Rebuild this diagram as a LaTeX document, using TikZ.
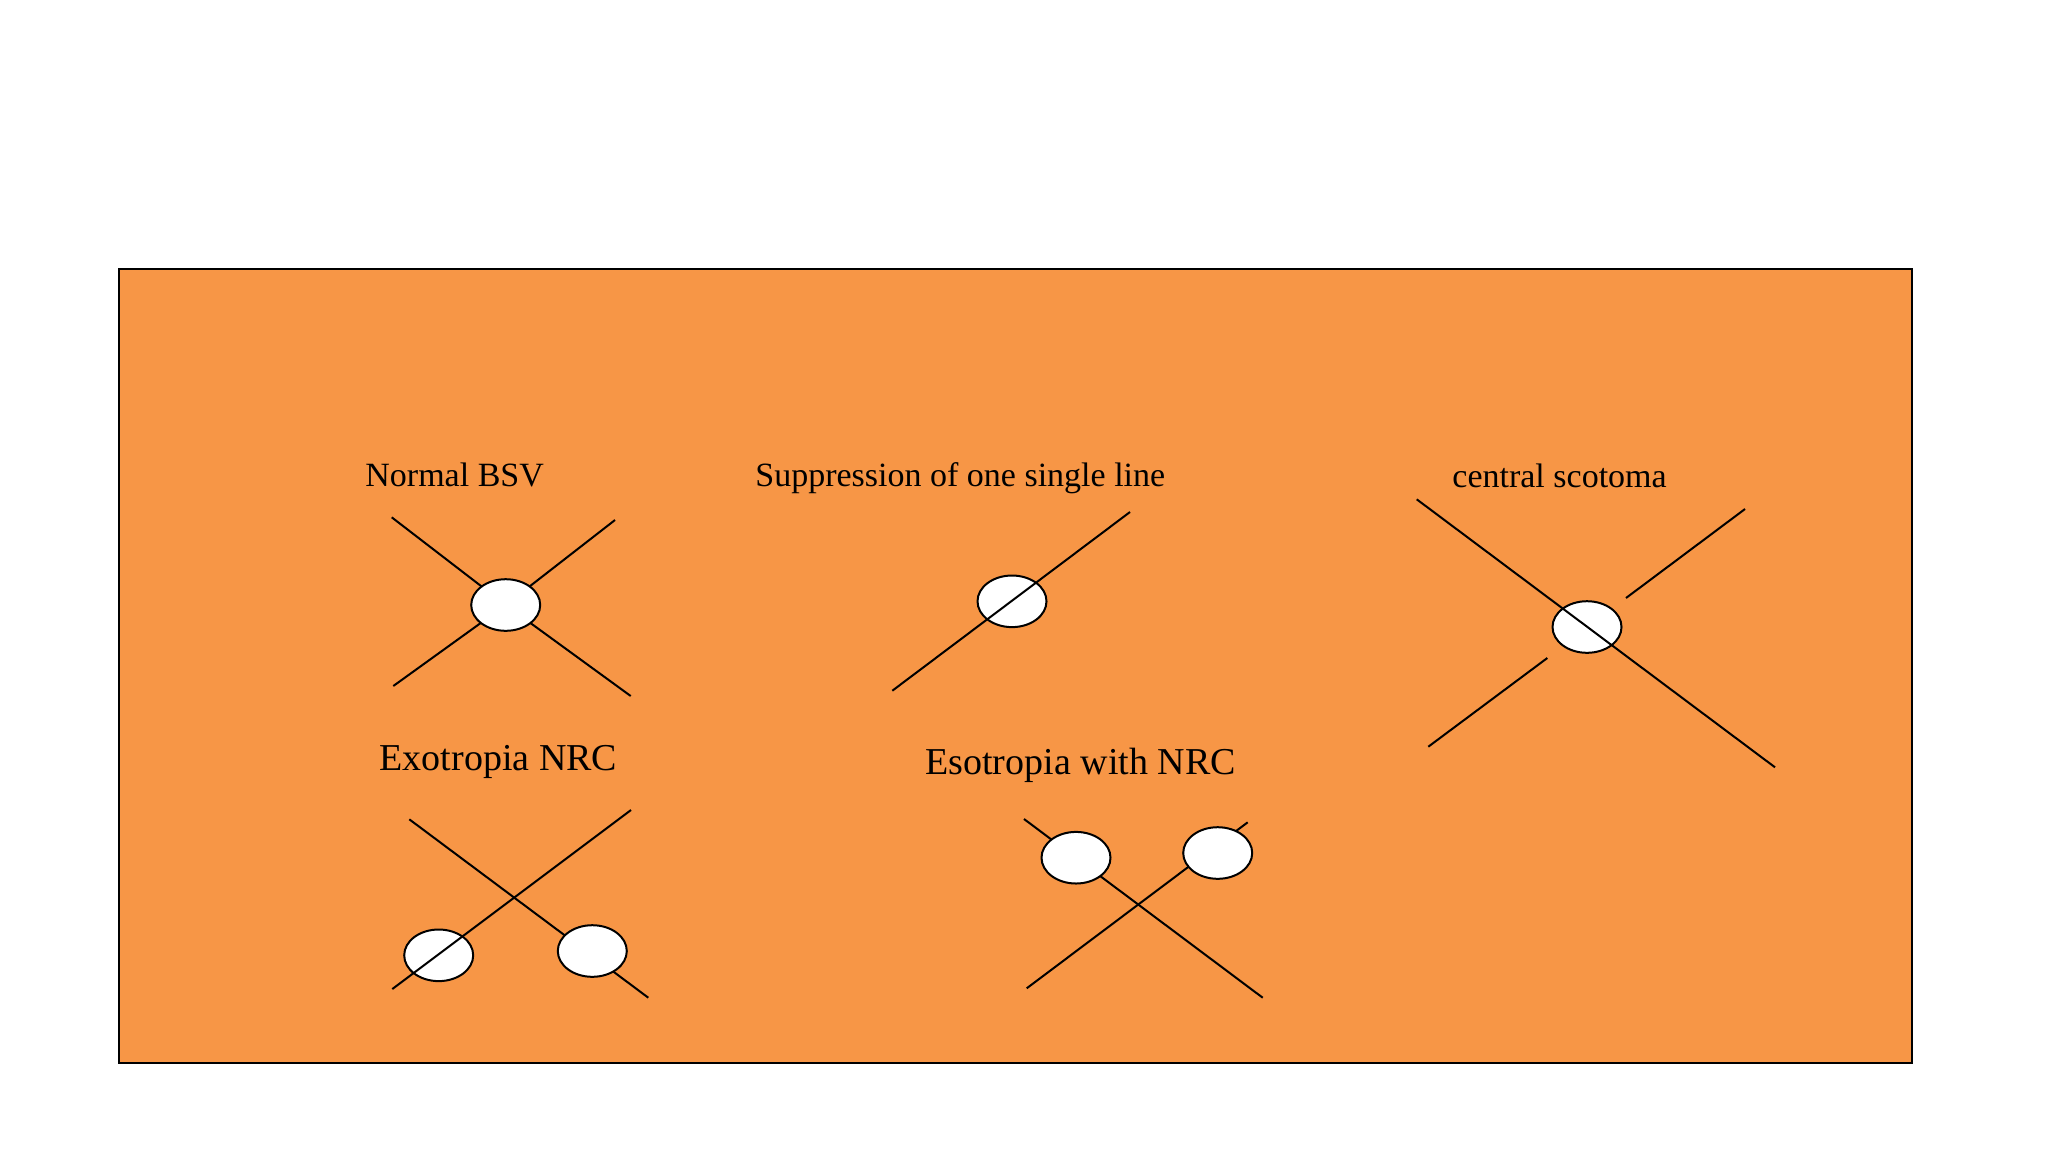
\documentclass[tikz,border=0pt]{standalone}
\usepackage{fontspec}
\setmainfont{Liberation Serif}
\usetikzlibrary{shapes.geometric}
\definecolor{panelorange}{RGB}{247,150,70}
\tikzset{
  eye/.style={ellipse, draw=black, fill=white, line width=1pt, minimum width=34.5pt, minimum height=25.8pt, inner sep=0pt},
  ray/.style={draw=black, line width=1pt},
  lab/.style={anchor=base west, inner sep=0pt, font=\fontsize{17}{20}\selectfont},
  labbig/.style={anchor=base west, inner sep=0pt, font=\fontsize{19}{23}\selectfont},
  panel/.style={draw=black, fill=panelorange, line width=1pt}
}
\begin{document}
\begin{tikzpicture}[x=0.5pt,y=-0.5pt]
\useasboundingbox (0,0) rectangle (2048,1152);
\fill[white] (0,0) rectangle (2048,1152);
\path[panel] (119,269) rectangle (1912,1063);

% labels
\node[lab] (t1) at (365,486.7) {Normal BSV};
\node[lab] (t2) at (755,486.7) {Suppression of one single line};
\node[lab] (t3) at (1452,487) {central scotoma};
\node[labbig] (t4) at (379.3,770.7) {Exotropia NRC};
\node[labbig] (t5) at (925,774.3) {Esotropia with NRC};

% Normal BSV
\coordinate (a1) at (391.7,517.3);
\coordinate (a2) at (630.7,696);
\coordinate (a3) at (615,520);
\coordinate (a4) at (393.3,686);
\coordinate (ac) at (505.7,605);
\draw[ray] (a1) -- (ac) -- (a2);
\draw[ray] (a3) -- (ac) -- (a4);
\node[eye] (ea) at (ac) {};

% Suppression of one single line
\node[eye] (eb) at (1012,601.3) {};
\coordinate (b1) at (892.3,690.7);
\coordinate (b2) at (1130,512);
\draw[ray] (b1) -- (b2);

% central scotoma
\node[eye] (ec) at (1587,627) {};
\coordinate (c1) at (1416.7,499.3);
\coordinate (c2) at (1775,767.3);
\coordinate (c3) at (1626,598);
\coordinate (c4) at (1745,509);
\coordinate (c5) at (1547.3,658);
\coordinate (c6) at (1428.3,746.7);
\draw[ray] (c1) -- (c2);
\draw[ray] (c3) -- (c4);
\draw[ray] (c5) -- (c6);

% Exotropia NRC
\coordinate (d1) at (409.3,819.3);
\coordinate (d2) at (648.3,997.7);
\coordinate (d3) at (631,810);
\coordinate (d4) at (392.3,989);
\draw[ray] (d1) -- (d2);
\node[eye] (ed2) at (592.3,951) {};
\node[eye] (ed1) at (438.7,955.3) {};
\draw[ray] (d3) -- (d4);

% Esotropia with NRC
\coordinate (f1) at (1024,819);
\coordinate (f2) at (1262.7,997.7);
\coordinate (f3) at (1247.7,822.3);
\coordinate (f4) at (1026.7,988.3);
\draw[ray] (f1) -- (f2);
\draw[ray] (f3) -- (f4);
\node[eye] (ef1) at (1076,857.7) {};
\node[eye] (ef2) at (1217.7,853) {};
\end{tikzpicture}
\end{document}
